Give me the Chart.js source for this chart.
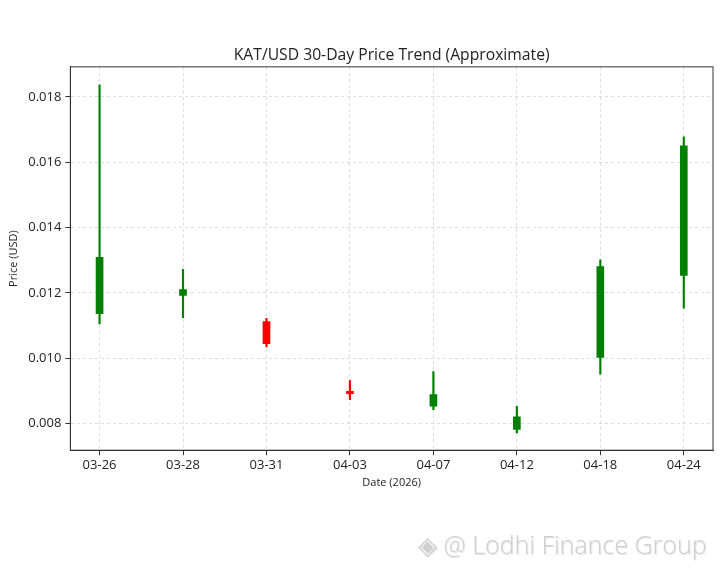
<!DOCTYPE html>
<html>
<head>
<meta charset="utf-8">
<script src="https://cdn.jsdelivr.net/npm/chart.js@4"></script>
<style>
  html, body { margin: 0; padding: 0; background: #fff; }
  #wrap { position: relative; width: 720px; height: 568px; }
  #watermark {
    position: absolute; left: 418px; top: 527px;
    font-family: 'Open Sans', sans-serif; font-size: 25px; font-weight: 300;
    color: #cfcfcf; text-shadow: 1px 1px 1px #e4e4e4;
    white-space: nowrap;
  }
</style>
</head>
<body>
<div id="wrap">
  <canvas id="candleChart" width="720" height="568"></canvas>
  <div id="watermark">◈ @ Lodhi Finance Group</div>
</div>
<script>
// Dati delle candele
const dates = ['03-26', '03-28', '03-31', '04-03', '04-07', '04-12', '04-18', '04-24'];
const openPrices = [0.01136, 0.01192, 0.01112, 0.00898, 0.00853, 0.00782, 0.01002, 0.01253];
const closePrices = [0.01309, 0.01210, 0.01044, 0.00891, 0.00888, 0.00820, 0.01280, 0.01650];
const highPrices = [0.01837, 0.01272, 0.01122, 0.00931, 0.00959, 0.00852, 0.01301, 0.01678];
const lowPrices = [0.01105, 0.01124, 0.01034, 0.00873, 0.00842, 0.00771, 0.00951, 0.01153];
const yTicks = [0.008, 0.010, 0.012, 0.014, 0.016, 0.018];

const candleColors = openPrices.map((o, i) => closePrices[i] >= o ? '#008000' : '#ff0000');

// Cornice completa attorno all'area del grafico
const frame = {
  id: 'frame',
  afterDraw(chart) {
    const { ctx, chartArea: a } = chart;
    ctx.save();
    ctx.strokeStyle = '#333';
    ctx.lineWidth = 1;
    ctx.strokeRect(a.left, a.top, a.right - a.left, a.bottom - a.top);
    ctx.restore();
  }
};

const font = "'Open Sans', sans-serif";

const ctx = document.getElementById('candleChart').getContext('2d');
const candleChart = new Chart(ctx, {
  type: 'bar',
  data: {
    datasets: [{
      label: 'Body',
      data: dates.map((d, i) => ({ x: i, y: [openPrices[i], closePrices[i]] })),
      backgroundColor: candleColors,
      barThickness: 7,
      grouped: false,
      order: 0
    }, {
      label: 'Wick',
      data: dates.map((d, i) => ({ x: i, y: [lowPrices[i], highPrices[i]] })),
      backgroundColor: candleColors,
      barThickness: 1.5,
      grouped: false,
      order: 1
    }]
  },
  options: {
    responsive: false,
    animation: false,
    layout: { padding: { left: 7, right: 7, top: 0, bottom: 79 } },
    plugins: {
      legend: { display: false },
      tooltip: { enabled: false },
      title: {
        display: true,
        fullSize: false,
        text: 'KAT/USD 30-Day Price Trend (Approximate)',
        color: '#222',
        font: { family: font, size: 15.7, weight: 'normal' },
        padding: { top: 46, bottom: 2 }
      }
    },
    scales: {
      x: {
        type: 'linear',
        min: -0.35,
        max: 7.35,
        offset: false,
        afterBuildTicks: (scale) => { scale.ticks = dates.map((d, i) => ({ value: i })); },
        ticks: {
          callback: (v) => dates[v],
          color: '#222',
          font: { family: font, size: 13 },
          padding: 2,
          maxRotation: 0
        },
        grid: {
          offset: false,
          color: '#d4d4d4',
          lineWidth: 0.8,
          tickColor: '#333',
          tickLength: 5,
          tickWidth: 1
        },
        border: { color: '#333', width: 1, dash: [3, 3] },
        title: {
          display: true,
          text: 'Date (2026)',
          color: '#222',
          font: { family: font, size: 11 },
          padding: { top: 1, bottom: 0 }
        }
      },
      y: {
        min: 0.00718,
        max: 0.01892,
        afterBuildTicks: (scale) => { scale.ticks = yTicks.map(v => ({ value: v })); },
        ticks: {
          callback: (v) => v.toFixed(3),
          color: '#222',
          font: { family: font, size: 13 },
          padding: 4
        },
        grid: {
          color: '#d4d4d4',
          lineWidth: 0.8,
          tickColor: '#333',
          tickLength: 5,
          tickWidth: 1
        },
        border: { color: '#333', width: 1, dash: [3, 3] },
        title: {
          display: true,
          text: 'Price (USD)',
          color: '#222',
          font: { family: font, size: 11 },
          padding: { top: 0, bottom: 4 }
        }
      }
    }
  },
  plugins: [frame]
});
</script>
</body>
</html>
